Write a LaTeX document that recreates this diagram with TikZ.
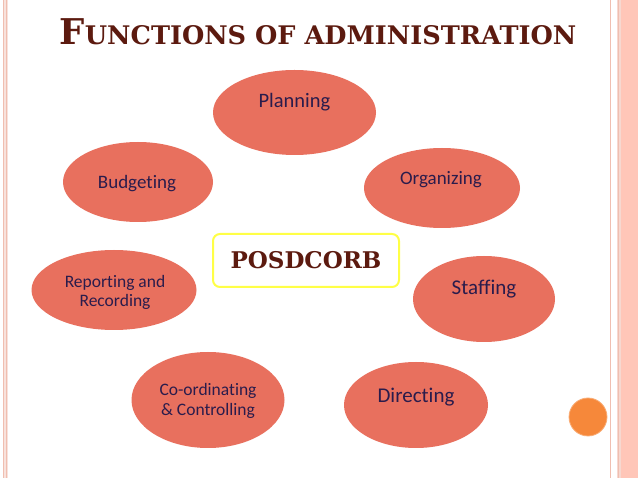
\documentclass[tikz,border=0pt]{standalone}
\usepackage{fontspec}
\setmainfont{Carlito}[Ligatures=NoCommon]
\newfontfamily\slabfont{DejaVu Serif}
\usetikzlibrary{shapes.geometric}
\definecolor{ovalred}{RGB}{232,112,94}
\definecolor{ovalink}{RGB}{42,28,76}
\definecolor{titlebrown}{RGB}{92,26,15}
\definecolor{edgepink}{RGB}{240,190,176}
\definecolor{edgesalmon}{RGB}{255,198,184}
\definecolor{dotorange}{RGB}{246,136,58}
\definecolor{boxyellow}{RGB}{255,255,70}

\begin{document}
\begin{tikzpicture}[x=1pt,y=-1pt,
  oval/.style={ellipse,fill=ovalred,inner sep=0pt},
  ovaltext/.style={text=ovalink,align=center,inner sep=0pt},
  posbox/.style={draw=boxyellow,line width=2pt,fill=white,rounded corners=7pt,
    minimum width=186pt,minimum height=53pt,text=titlebrown,
    font=\slabfont\bfseries\fontsize{23}{26}\selectfont}]
  \useasboundingbox (0,0) rectangle (638,478);
  \fill[white] (0,0) rectangle (638,478);
  % slide borders
  \fill[edgepink!45] (2.5,0) rectangle (7.5,478);
  \draw[edgepink,line width=1pt] (3.5,0) -- (3.5,478);
  \draw[edgepink,line width=1pt] (6.5,0) -- (6.5,478);
  \draw[edgepink,line width=1pt] (610.5,0) -- (610.5,478);
  \fill[edgepink!60] (616.5,0) rectangle (621,478);
  \draw[edgepink,line width=1.5pt] (618.5,0) -- (618.5,478);
  \fill[edgesalmon] (621,0) rectangle (638,478);
  \node[text=titlebrown,anchor=base,font=\slabfont\bfseries\fontsize{25.6}{30}\selectfont]
    (title) at (318,45) {{\fontsize{35.5}{40}\selectfont F}UNCTIONS OF ADMINISTRATION};
  % the seven ovals
  \node[oval,minimum width=163pt,minimum height=85pt] (plan)   at (294.5,112.5) {};
  \node[oval,minimum width=156pt,minimum height=80pt] (org)    at (442,188) {};
  \node[oval,minimum width=142pt,minimum height=86pt] (staff)  at (484,299) {};
  \node[oval,minimum width=144pt,minimum height=86pt] (direct) at (416,405) {};
  \node[oval,minimum width=153pt,minimum height=96pt] (coord)  at (208,400) {};
  \node[oval,minimum width=165pt,minimum height=80pt] (report) at (114,290) {};
  \node[oval,minimum width=150pt,minimum height=80pt] (budget) at (138,182) {};
  \node[ovaltext,font=\fontsize{20.5}{23}\selectfont] (planT)   at (294.5,102) {Planning};
  \node[ovaltext,font=\fontsize{19}{22}\selectfont]   (orgT)    at (441,180) {Organizing};
  \node[ovaltext,font=\fontsize{21}{24}\selectfont]   (staffT)  at (484,289) {Staffing};
  \node[ovaltext,font=\fontsize{21}{24}\selectfont]   (directT) at (416,397) {Directing};
  \node[ovaltext,font=\fontsize{17.5}{20}\selectfont] (coordT)  at (208,401) {Co-ordinating\\\& Controlling};
  \node[ovaltext,font=\fontsize{17.5}{19}\selectfont] (reportT) at (115,292) {Reporting and\\Recording};
  \node[ovaltext,font=\fontsize{19}{22}\selectfont]   (budgetT) at (137,184) {Budgeting};
  \node[posbox] (posd) at (306,260.5) {POSDCORB};
  \node[circle,fill=dotorange,draw=dotorange!70!white,line width=.8pt,minimum size=38pt] (dot) at (588,417) {};
\end{tikzpicture}
\end{document}
